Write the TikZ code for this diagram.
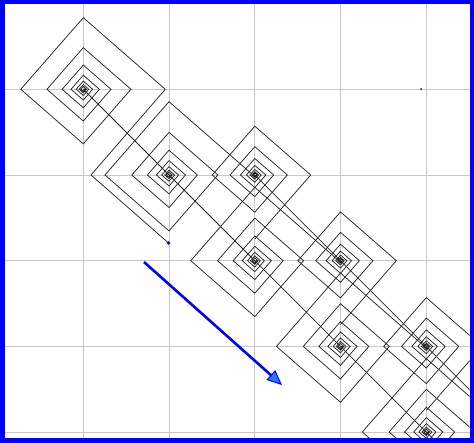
\documentclass[tikz,border=0pt]{standalone}
\usetikzlibrary{arrows.meta}
\definecolor{gridgray}{RGB}{200,200,200}
\definecolor{headblue}{RGB}{40,120,255}
\tikzset{
  sp/.style={draw=black!85,line width=0.75pt,line join=miter},
  gridline/.style={draw=gridgray,line width=0.8pt},
  frame/.style={draw=blue,line width=4.5pt},
  bluearrow/.style={draw=blue,line width=2.6pt,-{Triangle[length=15pt,width=13pt,fill=headblue,line width=1pt]}},
}
% spiral drawn outward from centre (#1,#2), clockwise on screen,
% ending at math angle #3 with radius #4
\newcommand{\spir}[4]{%
  \draw[sp] (#1,#2) -- plot[domain=0:28,samples=29,variable=\k]
    ({#1+#4/(1.1452^(28-\k))*cos(#3+90*(28-\k))},{#2-#4/(1.1452^(28-\k))*sin(#3+90*(28-\k))});}
\begin{document}
\begin{tikzpicture}[x=1pt,y=-1pt]
\useasboundingbox (0,0) rectangle (474,443);
% grid
\foreach \g in {83.3,169,254.8,340.5,426.3}{
  \draw[gridline] (\g,4.5) -- (\g,438.5);
}
\foreach \g in {89.3,175,260.7,346.4,432}{
  \draw[gridline] (4.5,\g) -- (469.5,\g);
}
\coordinate (s1end) at (165.3,89.3);
\coordinate (s2left) at (91,175);
\coordinate (dotA) at (168.5,243);
\coordinate (dotB) at (421,89);
% spirals
\begin{scope}
\clip (4.5,4.5) rectangle (469.5,438.5);
\spir{83.3}{89.3}{0}{82}
\draw[sp] (s1end) -- (s2left) -- (dotA);
\spir{169}{175}{0}{84}
\spir{254.8}{175}{-90}{64}
\spir{254.8}{260.7}{0}{84}
\spir{340.5}{260.7}{-90}{64}
\spir{340.5}{346.4}{0}{84}
\spir{426.3}{346.4}{-90}{64}
\spir{426.3}{432}{0}{84}
% diagonal links between centres
\foreach \cx/\cy in {83.3/89.3,169/175,254.8/175,254.8/260.7,340.5/260.7,340.5/346.4,426.3/346.4,426.3/432}{
  \draw[sp] (\cx,\cy) -- ++(85.7,85.7);
}
\end{scope}
% markers
\fill[blue] (dotA) circle (1.8pt);
\fill[blue!70!black] (dotB) circle (1pt);
\coordinate (as) at (144,262);
\coordinate (ae) at (282,385);
\draw[bluearrow] (as) -- (ae);
% frame
\draw[frame] (2.25,2.25) rectangle (471.75,440.75);
\end{tikzpicture}
\end{document}
